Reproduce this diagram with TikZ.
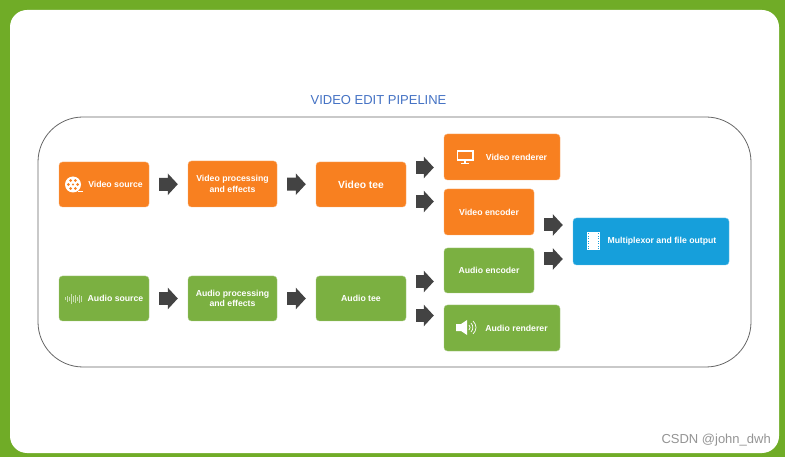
\documentclass[tikz,border=0pt]{standalone}
\usepackage{fontspec}
\setmainfont{Liberation Sans}
\usetikzlibrary{arrows.meta}

\begin{document}
\begin{tikzpicture}[x=1pt, y=-1pt, every node/.style={inner sep=0pt}]
  \definecolor{coulV}{HTML}{F88020} \definecolor{coulA}{HTML}{7BB041} \definecolor{coulM}{HTML}{169FDB}
  \definecolor{coulB}{HTML}{70AC27} \definecolor{coulE}{HTML}{434343} \definecolor{coulT}{HTML}{4472C4}
  \tikzstyle{box}=[rounded corners=3.5pt, text=white, align=center, font=\bfseries\fontsize{8.7}{10.5}\selectfont]
  \tikzstyle{edge}=[-{Triangle[length=10pt, width=21pt]}, coulE, line width=13pt, shorten >=10pt, shorten <=10pt]
  \tikzstyle{icon}=[white, line width=1.2pt]
  \tikzstyle{wave}=[white, line width=0.7pt]
  % page
  \fill[coulB] (0,0) rectangle (785,457);
  \node[fill=white, rounded corners=17pt, minimum width=769pt, minimum height=443pt] (page) at (394.5,231.5) {};
  \node[text=coulT, font=\fontsize{13}{15}\selectfont] (title) at (378.5,100.5) {VIDEO EDIT PIPELINE};
  \node[draw=black!60, line width=0.8pt, rounded corners=45pt, minimum width=713pt, minimum height=250pt] (pipeline) at (394.5,242) {};
  % boxes
  \foreach \nom/\x/\y/\w/\h/\coul/\txt in {
    vsrc/104/184.5/90/45/coulV/{\hspace*{23pt}Video source},
    vproc/232.5/184/89/46/coulV/{Video processing\\and effects},
    vtee/361/184.5/90/45/coulV/{\fontsize{10.3}{12}\selectfont Video tee},
    vrend/502/157/116/46/coulV/{\hspace*{29pt}Video renderer},
    venc/489/212/90/46/coulV/{Video encoder},
    asrc/104/298.5/90/45/coulA/{\hspace*{23pt}Audio source},
    aproc/232.5/298.5/89/45/coulA/{Audio processing\\and effects},
    atee/361/298.5/90/45/coulA/{Audio tee},
    aenc/489/270.5/90/45/coulA/{Audio encoder},
    arend/502/328/116/46/coulA/{\hspace*{29pt}Audio renderer},
    mux/651/241.5/156/47/coulM/{\hspace*{22pt}Multiplexor and file output}} {
    \node[box, draw=white!35!\coul, fill=\coul, minimum width=\w pt, minimum height=\h pt] (\nom) at (\x,\y) {\txt};
  }
  % arrows
  \draw[edge] (vsrc) -- (vproc);
  \draw[edge] (vproc) -- (vtee);
  \draw[edge] (asrc) -- (aproc);
  \draw[edge] (aproc) -- (atee);
  \draw[edge] ([yshift=17pt]vtee.east) -- ([yshift=17pt]vtee.east -| vrend.west);
  \draw[edge] ([yshift=-17pt]vtee.east) -- ([yshift=-17pt]vtee.east -| venc.west);
  \draw[edge] ([yshift=17pt]atee.east) -- ([yshift=17pt]atee.east -| aenc.west);
  \draw[edge] ([yshift=-17pt]atee.east) -- ([yshift=-17pt]atee.east -| arend.west);
  \draw[edge] ([yshift=-13pt]venc.east) -- ([yshift=-13pt]venc.east -| mux.west);
  \draw[edge] ([yshift=11.5pt]aenc.east) -- ([yshift=11.5pt]aenc.east -| mux.west);
  % icons
  \fill[white] (73,184.5) circle (8pt);
  \foreach \a in {0,60,...,300} {
    \fill[coulV] (73,184.5) ++(\a:4.6pt) circle (1.5pt);
  }
  \fill[coulV] (73,184.5) circle (1.2pt);
  \draw[white, line width=0.6pt] (78,191.5) -- (83,191.5);
  \foreach \x/\len in {65/1.5, 67/3, 69/2, 71/5, 73/3, 75/4, 77/2, 79/4, 81/3} {
    \draw[white!60!coulA, line width=0.9pt] (\x,299-\len) -- (\x,299+\len);
  }
  \draw[icon] (457.5,151) rectangle (473,160);
  \draw[icon] (465,160) -- (465,163.5);
  \draw[icon] (461,163.5) -- (469,163.5);
  \fill[white] (456,324) -- (461,324) -- (467,320) -- (467,335) -- (461,331) -- (456,331) -- cycle;
  \draw[wave] (469,325) .. controls (470.5,326.5) and (470.5,328.5) .. (469,330);
  \draw[wave] (471,323) .. controls (473.5,326) and (473.5,329) .. (471,332);
  \draw[wave] (473,321) .. controls (477,325) and (477,330) .. (473,334);
  \fill[white] (587,232) rectangle (600,250);
  \foreach \y in {233.5,236,...,248.5} {
    \fill[coulM] (587.8,\y) rectangle (588.8,\y+1);
    \fill[coulM] (598.2,\y) rectangle (599.2,\y+1);
  }
  % watermark
  \node[anchor=east, text=black!42, font=\fontsize{13}{15}\selectfont] (mark) at (771,440) {CSDN @john\_dwh};
\end{tikzpicture}
\end{document}
